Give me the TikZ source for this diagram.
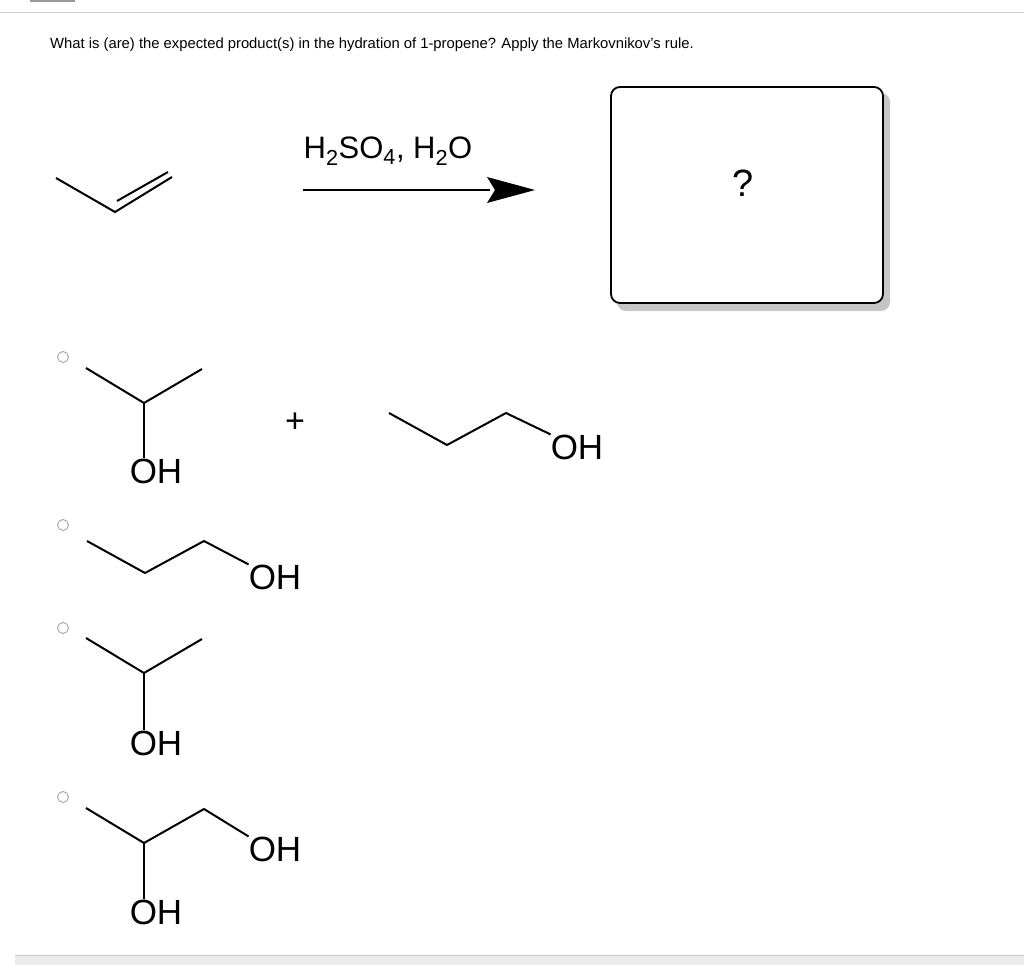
\documentclass[tikz,border=0pt]{standalone}
\usepackage{fontspec}
\setmainfont{Liberation Sans}
\begin{document}
\begin{tikzpicture}[x=1pt,y=-1pt,
  bond/.style={line width=2pt,line join=round},
  lbl/.style={font=\fontsize{35}{36}\selectfont,inner sep=0pt},
  radio/.style={circle,draw=gray!70,line width=0.9pt,minimum size=11pt,inner sep=0pt}]
\useasboundingbox (0,0) rectangle (1024,965);
\fill[white] (0,0) rectangle (1024,965);
\draw[gray!40,line width=0.8pt] (0,12) -- (1024,12);
\draw[gray!80,line width=1.2pt] (30,1) -- (75,1);
\fill[gray!15] (15,955) rectangle (1024,965);
\draw[gray!40] (15,955) -- (1024,955);
\node[anchor=west,font=\fontsize{14.8}{16}\selectfont,inner sep=0pt] (q) at (50,45) {What is (are) the expected product(s) in the hydration of 1-propene? Apply the Markovnikov's rule.};
% propene
\coordinate (p1) at (56,178); \coordinate (p2) at (115,212); \coordinate (p3) at (172,177);
\draw[bond] (p1) -- (p2) -- (p3);
\draw[bond] (117,201) -- (168,172);
% arrow
\coordinate (a1) at (303,190); \coordinate (a2) at (535,190);
\draw[bond] (a1) -- (490,190);
\fill (a2) -- (487,177) -- (495,190) -- (487,203) -- cycle;
\node[font=\fontsize{31}{32}\selectfont] (reag) at (388,151) {H\textsubscript{2}SO\textsubscript{4}, H\textsubscript{2}O};
% box
\fill[gray!45, rounded corners=9pt] (617,93) rectangle (890,311);
\draw[line width=1.8pt,fill=white,rounded corners=9pt] (611,87) rectangle (883,303);
\node[font=\fontsize{38}{38}\selectfont] (qm) at (743,183) {?};
% options
\node[radio] (r1) at (63,357) {};
\node[radio] (r2) at (63,525) {};
\node[radio] (r3) at (63,628) {};
\node[radio] (r4) at (63,797) {};
% option 1
\draw[bond] (86,368) -- (144,403) -- (202,369);
\node[lbl] (oh1) at (156,471) {OH};
\draw[bond] (144,403) -- (oh1.north -| 144,0);
\node[font=\fontsize{34}{34}\selectfont] (plus) at (295,423) {+};
\node[lbl] (oh2) at (577,447) {OH};
\draw[bond] (389,413) -- (447,445) -- (506,413) -- (oh2.north west);
% option 2
\node[lbl] (oh3) at (275,577) {OH};
\draw[bond] (87,541) -- (145,573) -- (204,541) -- (oh3.north west);
% option 3
\draw[bond] (86,638) -- (144,673) -- (202,639);
\node[lbl] (oh4) at (156,743) {OH};
\draw[bond] (144,673) -- (oh4.north -| 144,0);
% option 4
\node[lbl] (oh5) at (275,849) {OH};
\draw[bond] (86,808) -- (144,843) -- (204,809) -- (oh5.north west);
\node[lbl] (oh6) at (156,912) {OH};
\draw[bond] (144,843) -- (oh6.north -| 144,0);
\end{tikzpicture}
\end{document}
